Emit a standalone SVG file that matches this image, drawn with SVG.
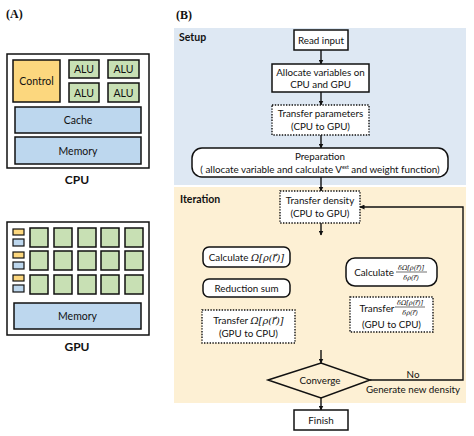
<svg xmlns="http://www.w3.org/2000/svg" width="474" height="436" viewBox="0 0 474 436">
<defs>
<marker id="ah" viewBox="0 0 10 10" refX="9" refY="5" markerWidth="5" markerHeight="5" orient="auto" markerUnits="userSpaceOnUse"><path d="M0,0 L10,5 L0,10 z" fill="#111"/></marker>
<style>
text{font-family:Lato,"Open Sans","Liberation Sans",sans-serif;fill:#111;}
.t{font-size:9.8px;text-anchor:middle;}
.ta{font-size:10.5px;text-anchor:middle;}
.b{font-size:10.5px;font-weight:bold;}
.bb{font-size:12px;font-weight:bold;text-anchor:middle;}
.lbl{font-family:"Liberation Serif",serif;font-size:12px;font-weight:bold;}
.box{fill:#fff;stroke:#111;stroke-width:1.5;}
.dot{fill:#fff;stroke:#111;stroke-width:1.4;stroke-dasharray:1.4 1.4;}
.ctl{fill:#fcd77e;stroke:#111;stroke-width:1.5;}
.alu{fill:#c8e0b4;stroke:#111;stroke-width:1.5;}
.mem{fill:#bdd7ee;stroke:#111;stroke-width:1.5;}
.ln{stroke:#111;stroke-width:1.4;fill:none;}
.m{font-family:"DejaVu Serif","Liberation Serif",serif;font-style:italic;}
.r{font-family:"DejaVu Sans",sans-serif;font-style:italic;}
.fr{font-size:6.5px;text-anchor:middle;}
</style>
</defs>

<!-- Panel A -->
<text class="lbl" x="6" y="18">(A)</text>
<g id="cpu">
<rect class="box" x="7" y="54" width="142" height="114"/>
<rect class="ctl" x="13" y="60" width="47" height="42"/>
<text class="ta" x="36.5" y="85">Control</text>
<rect class="alu" x="69" y="60" width="30" height="18"/><text class="ta" x="84" y="73">ALU</text>
<rect class="alu" x="108" y="60" width="31" height="18"/><text class="ta" x="123.5" y="73">ALU</text>
<rect class="alu" x="69" y="83" width="30" height="19"/><text class="ta" x="84" y="96.5">ALU</text>
<rect class="alu" x="108" y="83" width="31" height="19"/><text class="ta" x="123.5" y="96.5">ALU</text>
<rect class="mem" x="15" y="107" width="126" height="26"/><text class="ta" x="78" y="124">Cache</text>
<rect class="mem" x="15" y="137" width="126" height="27"/><text class="ta" x="78" y="154.5">Memory</text>
<text class="bb" x="77" y="184">CPU</text>
</g>

<g id="gpu">
<rect class="box" x="7" y="222" width="142" height="113"/>
<rect class="ctl" x="13" y="229" width="11" height="6" style="stroke-width:1.2"/>
<rect class="mem" x="13" y="239" width="11" height="7" style="stroke-width:1.2"/>
<rect class="ctl" x="13" y="252" width="11" height="6" style="stroke-width:1.2"/>
<rect class="mem" x="13" y="262" width="11" height="7" style="stroke-width:1.2"/>
<rect class="ctl" x="13" y="275" width="11" height="6" style="stroke-width:1.2"/>
<rect class="mem" x="13" y="285" width="11" height="7" style="stroke-width:1.2"/>
<g>
<rect class="alu" x="30" y="228" width="18" height="19"/><rect class="alu" x="54" y="228" width="18" height="19"/><rect class="alu" x="78" y="228" width="18" height="19"/><rect class="alu" x="101" y="228" width="18" height="19"/><rect class="alu" x="125" y="228" width="18" height="19"/>
<rect class="alu" x="30" y="251" width="18" height="19"/><rect class="alu" x="54" y="251" width="18" height="19"/><rect class="alu" x="78" y="251" width="18" height="19"/><rect class="alu" x="101" y="251" width="18" height="19"/><rect class="alu" x="125" y="251" width="18" height="19"/>
<rect class="alu" x="30" y="275" width="18" height="19"/><rect class="alu" x="54" y="275" width="18" height="19"/><rect class="alu" x="78" y="275" width="18" height="19"/><rect class="alu" x="101" y="275" width="18" height="19"/><rect class="alu" x="125" y="275" width="18" height="19"/>
</g>
<rect class="mem" x="14" y="303" width="127" height="26"/><text class="ta" x="77.5" y="320">Memory</text>
<text class="bb" x="77" y="351">GPU</text>
</g>

<!-- Panel B -->
<text class="lbl" x="176" y="19">(B)</text>
<rect x="174" y="28" width="292" height="157" fill="#dee8f3"/>
<rect x="174" y="187" width="292" height="216" fill="#fdf0d4"/>
<text class="b" x="179" y="41">Setup</text>
<text class="b" x="180" y="203">Iteration</text>

<g id="connectors">
<line class="ln" x1="321" y1="50" x2="321" y2="64" marker-end="url(#ah)"/>
<line class="ln" x1="321" y1="92" x2="321" y2="105" marker-end="url(#ah)"/>
<line class="ln" x1="321" y1="135" x2="321" y2="148" marker-end="url(#ah)"/>
<line class="ln" x1="321" y1="177" x2="321" y2="191" marker-end="url(#ah)"/>
<line class="ln" x1="321" y1="223" x2="321" y2="235" marker-end="url(#ah)"/>
<line class="ln" x1="321" y1="350" x2="321" y2="363" marker-end="url(#ah)"/>
<line class="ln" x1="321" y1="398" x2="321" y2="410" marker-end="url(#ah)"/>
<polyline class="ln" points="370,380 463,380 463,207 360,207" marker-end="url(#ah)"/>
<text class="t" x="413" y="378">No</text>
<text class="t" x="413" y="392.5">Generate new density</text>
</g>

<g id="read"><rect class="box" x="294" y="30" width="54" height="20"/><text class="t" x="321" y="43.5">Read input</text></g>
<g id="alloc"><rect class="box" x="272" y="64" width="97" height="28"/><text class="t" x="320.5" y="75.5">Allocate variables on</text><text class="t" x="320.5" y="87.5">CPU and GPU</text></g>
<g id="tparam"><rect class="dot" x="272" y="105" width="97" height="30"/><text class="t" x="320.5" y="117">Transfer parameters</text><text class="t" x="320.5" y="129.5">(CPU to GPU)</text></g>
<g id="prep"><rect class="box" x="192" y="148" width="256" height="29" rx="10"/><text class="t" x="320" y="160">Preparation</text><text class="t" x="320" y="172.5">( allocate variable and calculate V<tspan font-size="5" dy="-3.5">ext</tspan><tspan dy="3.5"> and weight function)</tspan></text></g>
<g id="tdens"><rect class="dot" x="280" y="191" width="80" height="32"/><text class="t" x="320" y="204">Transfer density</text><text class="t" x="320" y="216.5">(CPU to GPU)</text></g>
<g id="calcO"><rect class="box" x="203" y="247" width="87" height="20" rx="6"/><text class="t" x="246.5" y="260.5">Calculate <tspan class="m">Ω[ρ(</tspan><tspan class="r">r⃗</tspan><tspan class="m">)]</tspan></text></g>
<g id="red"><rect class="box" x="203" y="279" width="87" height="18" rx="6"/><text class="t" x="246.5" y="291.5">Reduction sum</text></g>
<g id="tO"><rect class="dot" x="202" y="310" width="93" height="33"/><text class="t" x="248.5" y="323.5">Transfer <tspan class="m">Ω[ρ(</tspan><tspan class="r">r⃗</tspan><tspan class="m">)]</tspan></text><text class="t" x="248.5" y="336.5">(GPU to CPU)</text></g>
<g id="calcD"><rect class="box" x="346" y="258" width="91" height="28" rx="9"/><text class="t" x="374" y="275.5">Calculate</text>
<text class="fr" x="411" y="270"><tspan class="m">δΩ[ρ(</tspan><tspan class="r">r⃗</tspan><tspan class="m">)]</tspan></text><line x1="396" y1="272" x2="427" y2="272" stroke="#111" stroke-width="0.6"/><text class="fr" x="411" y="280"><tspan class="m">δρ(</tspan><tspan class="r">r⃗</tspan><tspan class="m">)</tspan></text></g>
<g id="tD"><rect class="dot" x="350" y="297" width="83" height="35"/><text class="t" x="377" y="311.5">Transfer</text>
<text class="fr" x="410" y="305"><tspan class="m">δΩ[ρ(</tspan><tspan class="r">r⃗</tspan><tspan class="m">)]</tspan></text><line x1="395" y1="307" x2="425" y2="307" stroke="#111" stroke-width="0.6"/><text class="fr" x="410" y="315"><tspan class="m">δρ(</tspan><tspan class="r">r⃗</tspan><tspan class="m">)</tspan></text>
<text class="t" x="391.5" y="327.5">(GPU to CPU)</text></g>
<g id="conv"><polygon points="268,380 321,363 370,380 321,398" fill="#fdf0d4" stroke="#111" stroke-width="1.5"/><text class="t" x="320" y="383.5">Converge</text></g>
<g id="finish"><rect class="box" x="294" y="410" width="54" height="20"/><text class="t" x="321" y="423.5">Finish</text></g>
</svg>
